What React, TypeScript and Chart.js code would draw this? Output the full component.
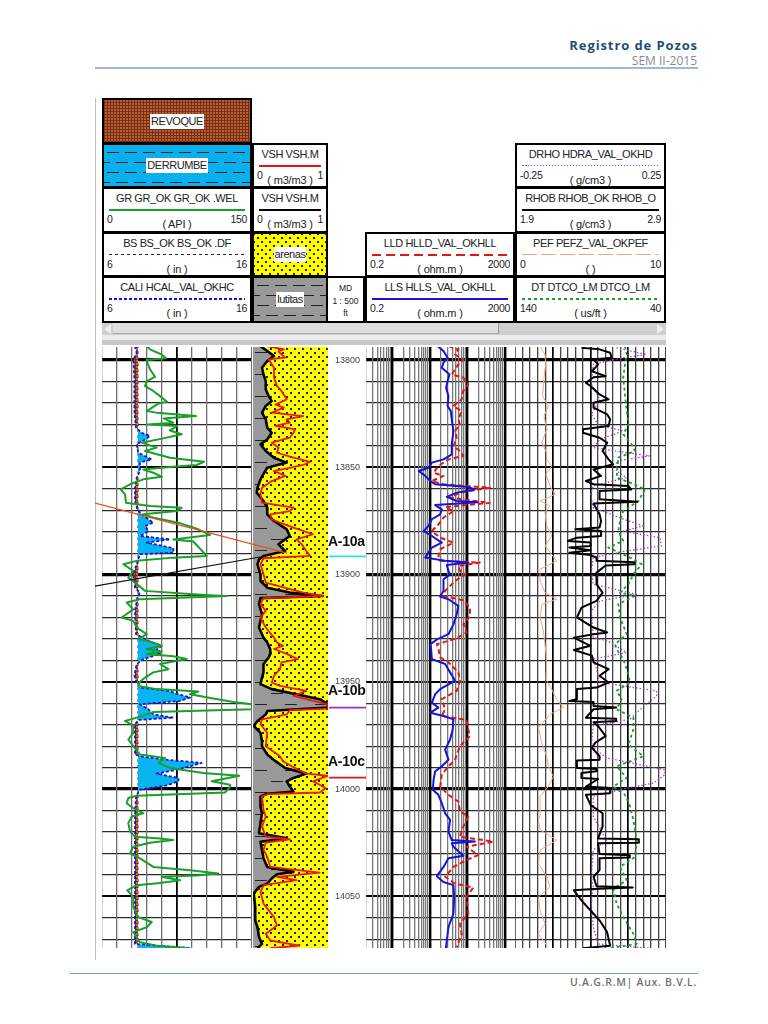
import React, { useEffect, useRef } from "react";
import { Chart, registerables } from "chart.js";

Chart.register(...registerables);

type Pair = [number, number]; // [depth in ft, curve value]

const DEPTH_TOP = 13793.9;
const DEPTH_BOTTOM = 14074.1;
const DEPTH_LABELS = [13800, 13850, 13900, 13950, 14000, 14050];

const GR: Pair[] = [[13793.5,44.7],[13795,48],[13797.4,59.7],[13799.2,64],[13800,44.7],[13802,46],[13804.3,48],[13807.8,53],[13809.8,44.7],[13812.1,43],[13814.4,51.3],[13816.8,58],[13819.4,65],[13820.3,56.3],[13823.8,44.7],[13824.5,54.7],[13826.1,94],[13827.2,61.7],[13829.2,71.3],[13830,46],[13830.7,75.3],[13832.8,68],[13834.6,79.7],[13836.5,61.3],[13838.5,39.7],[13840.8,54.7],[13842.4,43],[13845.5,68],[13847.4,102],[13848.9,94.7],[13849.9,68],[13851,41.3],[13852.5,51.3],[13854.4,59.7],[13855.6,41.3],[13857.9,28],[13860.3,18.7],[13862.6,23],[13866.5,24],[13868,48],[13868.8,79.7],[13870.4,74.7],[13871.9,41.3],[13873.5,51.3],[13875.8,76.3],[13878.9,96.3],[13881.5,108],[13883.6,71.3],[13884.6,91.3],[13891.3,104.7],[13892.1,71.3],[13893.6,34.7],[13895.2,21.3],[13898.3,31.3],[13901.4,26.3],[13903.7,33],[13907.6,43],[13909.2,91.3],[13910,124.7],[13911.5,38],[13913,24.7],[13916.2,31.3],[13920,19.7],[13921.6,31.3],[13924.7,34.7],[13927.8,44.7],[13930.1,36.3],[13931.7,51.3],[13933.2,59.7],[13934.7,44.7],[13935.9,59.7],[13937,44.7],[13938.1,71.3],[13939.4,84.7],[13941.7,58],[13944.1,66.3],[13945.6,51.3],[13948,43],[13950,38],[13951.9,36.3],[13953.4,54.7],[13954.5,96.3],[13955.8,88],[13957.8,111.3],[13959.4,131.3],[13960.5,150],[13962.8,150],[13964.1,51.3],[13966.7,34.7],[13968.3,23],[13970.3,31.3],[13973.8,31.3],[13976.9,26.3],[13980,31.3],[13983.9,38],[13985.5,63],[13987.8,56.3],[13990.2,68],[13992.5,101.3],[13993.8,137.3],[13996.4,109.7],[13998,128],[13999.1,128],[14001.6,123],[14003.1,34.7],[14004.2,26.3],[14006.6,24.7],[14008.9,31.3],[14011.3,41.3],[14012.8,29.7],[14015.9,26.3],[14019.8,28],[14022.2,33],[14023,58],[14023.8,71.3],[14025,48],[14026.9,31.3],[14030,28],[14032.3,38],[14036.3,51.3],[14037.8,88],[14039.4,116.3],[14040.3,94.7],[14040.9,59.7],[14042.5,78],[14043.8,58],[14044.8,34.7],[14047.2,25.3],[14050.3,31.3],[14055,31.3],[14059.7,36.3],[14062,49.7],[14064.4,44.7],[14066.7,31.3],[14069,34.7],[14071.4,38],[14073,54.7],[14074.2,88]];

const BS: Pair[] = [[13793,8.4],[14075,8.4]];

const CALI: Pair[] = [[13793.5,8.2],[13796.6,8.31],[13800,8.09],[13808.2,8.16],[13823.8,8.16],[13831.5,8.27],[13833.9,8.64],[13835.4,9.2],[13837,8.87],[13839.3,8.31],[13843.2,8.42],[13846.3,9.31],[13847.8,8.53],[13851.7,8.53],[13854.8,8.31],[13859.5,8.2],[13865.7,8.2],[13869.6,8.36],[13871.9,8.64],[13875.8,9.42],[13877.3,8.87],[13879.7,9.09],[13882,8.53],[13883.6,10.53],[13885.1,8.98],[13887.7,10.76],[13889.8,10.76],[13890.5,8.53],[13895.2,8.31],[13899.9,8.09],[13906.1,8.2],[13908.4,8.53],[13910.7,8.36],[13916.9,8.2],[13927.8,8.27],[13930.9,9.09],[13933.2,9.98],[13936.3,9.42],[13937,9.87],[13939.4,8.76],[13941.7,8.31],[13947.2,8.16],[13950.3,8.31],[13952.7,8.53],[13954.2,10.42],[13955.8,11.09],[13957.3,11.87],[13958.9,11.2],[13960.5,8.53],[13962.8,9.09],[13965.2,9.42],[13966.7,10.76],[13967.8,8.42],[13969.8,8.2],[13983.9,8.2],[13985,8.76],[13986.3,10.31],[13987.8,12.64],[13989.4,11.87],[13991.3,10.76],[13992.8,9.64],[13994.8,11.09],[13996.4,11.09],[13998.3,10.31],[14000.3,8.53],[14003.4,8.27],[14012.8,8.2],[14028.4,8.2],[14044,8.2],[14059.7,8.2],[14072.2,8.2],[14074.2,11.98]];

const VSH_BLACK: Pair[] = [[13793.5,.1],[13795.8,.19],[13798.1,.28],[13800.5,.19],[13803.6,.12],[13806.7,.14],[13809.8,.17],[13813.7,.17],[13816.8,.21],[13819.1,.25],[13821.4,.17],[13824.5,.12],[13827.6,.17],[13831.5,.19],[13833.9,.25],[13837,.19],[13839.3,.1],[13842.4,.17],[13845.5,.28],[13847.8,.45],[13850.2,.19],[13852.5,.15],[13855.6,.1],[13859.5,.06],[13861.8,.05],[13865.7,.14],[13868.8,.19],[13871.9,.19],[13875,.28],[13878.9,.45],[13882,.49],[13885.9,.34],[13889,.43],[13891.3,.14],[13892.9,.08],[13895.2,.06],[13899.9,.1],[13903,.1],[13906.1,.19],[13908.4,.49],[13910,.93],[13911,.1],[13913.8,.08],[13918.5,.12],[13924.7,.08],[13929.4,.14],[13931.7,.19],[13934.8,.23],[13937,.23],[13938.6,.21],[13941.7,.14],[13945.6,.14],[13948,.12],[13951.1,.1],[13953.4,.25],[13955.8,.58],[13958.1,.89],[13960.5,1],[13962,1],[13963.6,.19],[13965.2,.17],[13968.3,.06],[13970.6,.01],[13973.8,.1],[13977.7,.12],[13980,.12],[13983.9,.19],[13987,.3],[13990.2,.43],[13992.8,.71],[13994.8,.54],[13996.4,.45],[13998.8,.49],[14001.1,.54],[14002.2,.19],[14003.4,.1],[14008.1,.1],[14011.3,.12],[14015.9,.1],[14020.6,.08],[14023,.45],[14024.6,.1],[14028.4,.12],[14032.3,.14],[14036.3,.19],[14038.6,.54],[14039.7,.32],[14041.7,.25],[14044.1,.19],[14045.6,.08],[14048.7,.01],[14055,.03],[14061.2,.03],[14064.4,.06],[14069,.08],[14072.2,.12],[14074.2,.06]];

const VSH_RED: Pair[] = [[13793.5,.19],[13795,.41],[13796,.34],[13798.9,.43],[13799.7,.21],[13803.6,.28],[13808.2,.28],[13812.1,.32],[13814.4,.38],[13818.3,.45],[13820.7,.3],[13822.2,.41],[13824.5,.25],[13826.1,.67],[13827.6,.45],[13829.2,.49],[13830.7,.3],[13832.3,.56],[13833.9,.54],[13836.2,.49],[13838.5,.25],[13840.8,.34],[13843.2,.32],[13845.5,.54],[13847.4,.76],[13848.9,.67],[13850.2,.49],[13851.7,.28],[13854,.43],[13856.4,.25],[13859.5,.12],[13862.6,.1],[13866.5,.12],[13868.8,.54],[13870.4,.49],[13871.9,.23],[13874.2,.25],[13875.8,.36],[13878.1,.54],[13881.2,.8],[13883.6,.58],[13885.9,.65],[13889,.71],[13891.3,.76],[13892.4,.14],[13895.2,.1],[13899.9,.14],[13903.7,.17],[13908.4,.67],[13910,.93],[13911,.14],[13913.8,.1],[13916.9,.17],[13920,.1],[13924.7,.17],[13929.4,.28],[13931.7,.32],[13933.2,.4],[13934.7,.28],[13937,.45],[13939.4,.6],[13940.9,.38],[13944.1,.36],[13947.2,.28],[13950.3,.25],[13951.9,.36],[13954.2,.71],[13956.6,.54],[13958.9,.8],[13960.5,1],[13962.5,1],[13963.2,.49],[13965.2,.45],[13967.5,.12],[13969.8,.1],[13973.8,.19],[13980,.17],[13984.7,.36],[13987,.4],[13989.4,.52],[13992.8,.71],[13993.8,1],[13996.4,.8],[13998,.89],[13999.6,.97],[14001.6,.89],[14002.4,.19],[14003.4,.12],[14009.7,.14],[14012.8,.17],[14017.5,.12],[14022.2,.17],[14023.4,.49],[14025,.17],[14028.4,.14],[14031.5,.19],[14036.3,.23],[14039,.89],[14040.9,.32],[14042.5,.58],[14044.8,.14],[14048,.1],[14053.4,.14],[14059.7,.28],[14063.6,.32],[14067.5,.17],[14070.6,.23],[14073,.62],[14074.2,.23]];

const LLS: Pair[] = [[13793.5,16.2],[13795.8,23.3],[13798.9,30],[13801.2,23.3],[13803.6,21],[13806.7,33.6],[13809.8,30],[13812.9,27.4],[13816.8,31.6],[13821.4,30],[13823.8,36.5],[13827.6,38.7],[13833.1,42.9],[13839.3,38.7],[13844,38.7],[13846.3,23.3],[13847.8,11.4],[13850.2,9.3],[13851.7,5.1],[13854,7.6],[13856.4,10.4],[13857.9,14],[13859.2,107],[13860.3,160],[13861.8,52.5],[13863.8,28.6],[13865.7,52.5],[13866.3,196],[13867.6,14],[13869.6,21],[13871.9,19],[13874.2,11.4],[13877.3,9.3],[13879.7,6.9],[13882,11.4],[13885.1,21],[13887.4,11.4],[13892.1,7.6],[13893.6,25.8],[13894.4,107],[13895.5,28.6],[13898.3,31.6],[13899.9,35],[13902.2,23.3],[13907.6,23.3],[13910.3,19],[13911.5,31.6],[13914.6,58],[13918.5,52.5],[13923.2,42.9],[13927.8,31.6],[13930.1,16],[13932.5,10.4],[13934.7,10.9],[13939.4,11.4],[13941.7,25.8],[13945.6,35],[13949.5,47.4],[13953.4,19],[13955.8,14],[13959.7,11.4],[13962,17],[13964.4,10.4],[13965.9,23.3],[13967.5,42.9],[13972.2,41],[13976.9,35],[13981.6,25.8],[13986.3,31.6],[13989.4,21],[13991.7,14],[13995.6,12.7],[14000.3,12.1],[14002.7,17],[14006.6,21],[14011.3,25.8],[14014.4,35],[14019.8,31.6],[14023.8,38.7],[14024.5,160],[14025.3,38.7],[14026.9,42.9],[14031.1,78.8],[14032.3,31.6],[14036.3,23.3],[14040.6,15.5],[14043.3,23.3],[14044.8,42.9],[14050.3,45],[14058.1,42.9],[14064.4,31.6],[14074.2,27]];

const LLD: Pair[] = [[13793.5,31.6],[13795,58],[13797.4,47.4],[13799.7,79],[13802,58],[13806.7,38.7],[13808.2,79],[13811.3,107],[13814.4,79],[13818.3,71],[13821.4,43],[13823.8,71],[13827.6,58],[13830,64],[13833.1,47.4],[13836.2,52.5],[13840.1,43],[13842.4,64],[13844.7,79],[13846.3,31.6],[13849.4,17.1],[13852.5,12.7],[13854,23.3],[13856.4,11.4],[13857.9,23.3],[13859.5,398],[13861.8,64],[13864.1,35],[13866.6,398],[13868.5,25.8],[13870.4,43],[13873.5,23.3],[13876.6,17.1],[13879.7,11.4],[13882.8,19],[13885.1,43],[13888.2,19],[13891.3,17.1],[13893.6,19],[13894.4,217],[13896,58],[13898.3,64],[13899.9,87],[13903,47.4],[13907.6,25.8],[13910,23.3],[13912,79],[13915.4,118],[13919.3,118],[13923.2,79],[13927,96],[13929.7,52.5],[13932.5,15.5],[13934.7,17.1],[13938.6,19],[13940.9,31.6],[13945.6,58],[13949.5,64],[13954.2,52.5],[13958.1,21],[13962.8,25.8],[13965.9,21],[13967.8,96],[13972.2,107],[13975.3,118],[13980,64],[13986.3,47.4],[13989.4,31.6],[13993.3,21],[13998.8,19],[14002.7,31.6],[14005.8,58],[14010.5,64],[14012.8,107],[14017.5,79],[14022.2,64],[14024.5,489],[14026.9,96],[14030.8,196],[14033.1,96],[14036.3,43],[14040.9,25.8],[14044.1,47.4],[14045.9,145],[14050.3,96],[14058.1,107],[14062.8,64],[14067.5,71],[14073.8,52.5]];

const PEF: Pair[] = [[13793.5,1.66],[13797.4,1.99],[13802,2.03],[13808.2,1.92],[13816.8,1.83],[13821.4,2.21],[13826.1,1.92],[13832.3,2.1],[13838.5,1.77],[13843.2,2.1],[13846.3,2.1],[13849.4,2.43],[13853.3,2.05],[13858.7,2.32],[13862.6,2.65],[13865.7,1.66],[13868,2.32],[13871.1,1.99],[13877.3,2.1],[13882,2.43],[13886.6,1.99],[13893.6,2.76],[13897.5,1.66],[13903,1.66],[13908.4,1.99],[13911.5,2.76],[13913.8,1.77],[13920,1.66],[13926.2,1.88],[13936.4,2.05],[13940.9,2.1],[13948.8,2.05],[13953.4,2.43],[13958.1,2.76],[13962,3.2],[13965.2,2.32],[13971.4,1.55],[13978.5,1.77],[13984.7,2.1],[13989.4,2.21],[13994.1,2.54],[13998.8,2.21],[14003.4,1.66],[14008.1,1.66],[14012,1.66],[14014.4,1.55],[14019,1.66],[14023.8,2.76],[14028.4,1.66],[14034.7,1.55],[14040.9,2.1],[14045.6,2.32],[14050.3,1.55],[14056.6,1.66],[14062.8,1.99],[14067.5,1.55],[14073.8,2.21]];

const RHOB: Pair[] = [[13794.3,2.34],[13795,2.46],[13796.6,2.53],[13798.9,2.54],[13799.7,2.42],[13802,2.45],[13805.2,2.41],[13807.5,2.5],[13808,2.42],[13810.6,2.37],[13812.1,2.4],[13816,2.46],[13818.3,2.52],[13819.9,2.42],[13822.2,2.42],[13825.3,2.51],[13827.6,2.53],[13830.7,2.52],[13832.3,2.35],[13833.9,2.35],[13836.2,2.46],[13838.5,2.51],[13842.4,2.48],[13846.3,2.52],[13848.6,2.55],[13851,2.42],[13854,2.47],[13856.4,2.37],[13857.9,2.42],[13858.7,2.65],[13860.3,2.67],[13861,2.46],[13864.9,2.46],[13866,2.71],[13866.9,2.42],[13871.9,2.46],[13875,2.47],[13878.1,2.46],[13878.9,2.3],[13879.7,2.47],[13882,2.47],[13882.8,2.31],[13884.3,2.25],[13885.1,2.4],[13886.7,2.4],[13887.4,2.26],[13888.7,2.4],[13889.8,2.26],[13890.9,2.4],[13892.1,2.44],[13893.6,2.44],[13894.3,2.69],[13895.2,2.69],[13895.8,2.5],[13899.1,2.44],[13904.5,2.44],[13908.4,2.48],[13912.3,2.44],[13915.4,2.34],[13920,2.31],[13924.7,2.42],[13927,2.51],[13927.8,2.42],[13929.4,2.29],[13933.2,2.4],[13935.2,2.29],[13937.8,2.41],[13940.9,2.42],[13944.1,2.52],[13947.2,2.46],[13950.3,2.52],[13952.7,2.44],[13953.4,2.31],[13958.1,2.31],[13958.9,2.26],[13959.4,2.42],[13961.3,2.42],[13962,2.57],[13962.8,2.42],[13966.7,2.37],[13967.2,2.57],[13968.3,2.57],[13968.8,2.42],[13970.6,2.45],[13975.3,2.5],[13978.5,2.43],[13980.8,2.41],[13984.7,2.46],[13986.3,2.46],[13986.7,2.31],[13990.2,2.31],[13990.6,2.44],[13991.7,2.44],[13992.5,2.34],[13994.8,2.34],[13995.3,2.45],[13998.8,2.37],[13999.5,2.53],[14001.9,2.53],[14002.7,2.37],[14007.4,2.4],[14011.3,2.48],[14017.5,2.48],[14023,2.45],[14023.4,2.72],[14025,2.72],[14025.3,2.45],[14030.3,2.46],[14030.8,2.66],[14031.9,2.66],[14032.3,2.46],[14037.8,2.46],[14040.9,2.42],[14045.3,2.44],[14045.9,2.68],[14046.6,2.42],[14047.2,2.29],[14051.9,2.34],[14056.6,2.4],[14061.2,2.46],[14066.7,2.51],[14073,2.53],[14074.2,2.35]];

const DRHO: Pair[] = [[13794.3,.086],[13797.4,.185],[13798.9,.108],[13802,.009],[13811.3,.003],[13818.3,.031],[13825.3,.003],[13830,.025],[13833.1,.108],[13836.9,.031],[13840.8,.009],[13844.7,.196],[13847,.086],[13851.7,.086],[13854.8,.119],[13858.7,.009],[13862.6,0],[13868.8,.009],[13873.5,.097],[13877.3,.174],[13879.7,.108],[13882.8,.23],[13886.6,.235],[13889,.119],[13892.1,.009],[13898.3,.003],[13904.5,.009],[13909.2,.152],[13912.3,.031],[13916.9,.003],[13929.4,.009],[13931,.058],[13936.4,.119],[13939.4,.009],[13944.1,.02],[13950.3,.031],[13954.2,.219],[13956.6,.219],[13960.5,.185],[13964.4,.152],[13967.5,.13],[13970.6,.009],[13980,.003],[13985.5,.053],[13991,.246],[13993.3,.246],[13997.2,.208],[13999.6,.119],[14003.4,.009],[14012.8,.009],[14023.8,.053],[14028.4,.009],[14040.9,.003],[14045.6,.009],[14053.4,.003],[14064.4,.009],[14072.2,.025],[14074.2,.196]];

const DT: Pair[] = [[13793.5,67.2],[13797.4,66],[13802,67.2],[13808.2,68.3],[13816,67.2],[13823.8,66],[13830,64.9],[13834.6,68.3],[13839.3,62.7],[13842.4,60.5],[13845.5,71.6],[13854.8,72.7],[13857.1,63.8],[13860.3,53.9],[13865.7,58.3],[13870.4,68.3],[13875,70.5],[13879.7,71.6],[13884.3,68.3],[13887.4,78.2],[13892.1,63.8],[13895.2,56.1],[13899.9,61.6],[13904.5,64.9],[13908.4,70.5],[13909.9,60.5],[13913.8,71.6],[13920,70.5],[13927.8,66],[13932.5,73.8],[13934.7,72.7],[13939.4,68.3],[13944.1,66],[13950.3,63.8],[13954.2,72.7],[13958.1,69.4],[13962.8,72.7],[13966.7,61.6],[13972.2,61.6],[13979.2,64.9],[13984.7,55],[13989.4,72.7],[13994.8,66],[13998.8,74.9],[14002.7,67.2],[14008.1,63.8],[14014.4,61.6],[14023.8,59.4],[14031.6,60.5],[14036.3,70.5],[14042.5,66],[14046.4,74.9],[14053.4,72.7],[14059.7,68.3],[14067.5,61.6],[14072.2,59.4],[14074.2,78.2]];

// Annotation lines on the overlay, whose x axis continues the GR scale (API) across the page.
const RED_FAULT: Pair[] = [[13866.7,-7],[13890,185]];
const BLACK_FAULT: Pair[] = [[13891.8,158],[13905.4,-7]];
const TOP_A10A: Pair[] = [[13891.5,227],[13891.5,264]];
const TOP_A10B: Pair[] = [[13962,227],[13962,264]];
const TOP_A10C: Pair[] = [[13994.7,227],[13994.7,264]];

const pts = (a: Pair[]) => a.map(([y, x]) => ({ x, y }));

function makePattern(draw: (g: CanvasRenderingContext2D) => void, w: number, h: number) {
  const c = document.createElement("canvas");
  c.width = w;
  c.height = h;
  const g = c.getContext("2d")!;
  draw(g);
  return g.createPattern(c, "repeat")!;
}
const sandPattern = () =>
  makePattern((g) => {
    g.fillStyle = "#ffff00";
    g.fillRect(0, 0, 8, 8);
    g.fillStyle = "#222";
    g.fillRect(1, 1, 2, 2);
    g.fillRect(5, 5, 2, 2);
  }, 8, 8);
const shalePattern = () =>
  makePattern((g) => {
    g.fillStyle = "#999999";
    g.fillRect(0, 0, 30, 22);
    g.fillStyle = "#222";
    g.fillRect(2, 5, 12, 1);
    g.fillRect(18, 16, 12, 1);
  }, 30, 22);
const mudcakePattern = () =>
  makePattern((g) => {
    g.fillStyle = "#c8643c";
    g.fillRect(0, 0, 3, 3);
    g.fillStyle = "#7a2e10";
    g.fillRect(0, 0, 3, 1);
    g.fillRect(0, 0, 1, 3);
  }, 3, 3);

const depthTicks: number[] = [];
for (let d = 13800; d <= 14070; d += 10) depthTicks.push(d);

const depthScale = (withGrid: boolean) => ({
  type: "linear",
  reverse: true,
  min: DEPTH_TOP,
  max: DEPTH_BOTTOM,
  display: withGrid,
  border: { display: false },
  ticks: { display: false },
  afterBuildTicks: (s: any) => {
    s.ticks = depthTicks.map((value) => ({ value }));
  },
  grid: {
    drawTicks: false,
    color: (c: any) => (c.tick.value % 50 === 0 ? "#000" : "#2a2a2a"),
    lineWidth: (c: any) => (c.tick.value % 100 === 0 ? 3.2 : c.tick.value % 50 === 0 ? 2 : 1.2),
  },
});

const hiddenX = (min: number, max: number) => ({ type: "linear", min, max, display: false });

const gridX = (type: string, min: number, max: number, ticks: number[], heavy: (v: number) => boolean, thin: string, heavyW: number) => ({
  type,
  min,
  max,
  border: { display: false },
  ticks: { display: false, autoSkip: false },
  afterBuildTicks: (s: any) => {
    s.ticks = ticks.map((value) => ({ value }));
  },
  grid: {
    drawTicks: false,
    color: (c: any) => (heavy(c.tick.value) ? "#000" : thin),
    lineWidth: (c: any) => (heavy(c.tick.value) ? heavyW : 1.3),
  },
});

// The unbroken dash keeps Chart.js on its exact path: its fast path merges points that share a pixel column.
const line = (data: Pair[], color: string, width: number, axis: string, extra: any = {}) => ({
  data: pts(data),
  borderColor: color,
  borderWidth: width,
  borderDash: [1000, 0],
  borderJoinStyle: "round",
  xAxisID: axis,
  pointRadius: 0,
  tension: 0,
  fill: false,
  ...extra,
});

const baseOptions = (scales: any, plugins: any = {}) => ({
  indexAxis: "y",
  animation: false,
  responsive: false,
  layout: { padding: 0, autoPadding: false },
  plugins: { legend: { display: false }, tooltip: { enabled: false }, ...plugins },
  scales,
});

const grTicks = [0, 15, 30, 45, 60, 75, 90, 105, 120, 135, 150];
const resTicks: number[] = [];
for (const dec of [0.1, 1, 10, 100, 1000])
  for (const m of [1, 2, 3, 4, 5, 6, 7, 8, 9]) {
    const v = +(dec * m).toPrecision(2);
    if (v >= 0.2 && v <= 2000) resTicks.push(v);
  }
const rhobTicks: number[] = [];
for (let i = 0; i <= 20; i++) rhobTicks.push(+(1.9 + i * 0.05).toFixed(2));

// Datasets draw last-to-first: the first entry of each list ends up on top.
function track1() {
  return {
    type: "line",
    data: {
      datasets: [
        line(GR, "#18a028", 2, "xGr"),
        line(CALI, "#1414d2", 1.8, "xCal", {
          borderDash: [3, 2],
          fill: { target: { value: 8.4 }, above: "#0ab4f0", below: mudcakePattern() },
        }),
        line(BS, "#333", 1, "xCal", { borderDash: [3, 3] }),
      ],
    },
    options: baseOptions({
      y: depthScale(true),
      xGr: gridX("linear", 0, 150, grTicks, (v) => v === 75, "#6e6e6e", 1.8),
      xCal: hiddenX(6, 16),
    }),
  };
}

function track2() {
  const sand = sandPattern();
  const shale = shalePattern();
  return {
    type: "line",
    data: {
      datasets: [
        line(VSH_RED, "#f01414", 1.8, "x"),
        line(VSH_BLACK, "#000", 2.6, "x"),
        line(VSH_BLACK, "transparent", 0, "x", { fill: { target: { value: 1 }, above: sand, below: sand } }),
        line(VSH_BLACK, "transparent", 0, "x", { fill: { target: { value: 0 }, above: shale, below: shale } }),
      ],
    },
    options: baseOptions({ y: depthScale(false), x: hiddenX(0, 1) }),
  };
}

function track3() {
  return {
    type: "line",
    data: {
      datasets: [
        line(LLS, "#1414d8", 2, "x"),
        line(LLD, "#e81414", 2, "x", { borderDash: [5, 3] }),
      ],
    },
    options: baseOptions({
      y: depthScale(true),
      x: gridX("logarithmic", 0.2, 2000, resTicks, (v) => [1, 10, 100, 1000].includes(v), "#777", 2.4),
    }),
  };
}

function track4() {
  return {
    type: "line",
    data: {
      datasets: [
        line(RHOB, "#000", 2, "xRhob"),
        line(DT, "#14a020", 1.8, "xDt", { borderDash: [3, 3] }),
        line(DRHO, "#a040e0", 1.3, "xDrho", { borderDash: [1.5, 2] }),
        line(PEF, "#f2a67c", 1, "xPef"),
      ],
    },
    options: baseOptions({
      y: depthScale(true),
      xRhob: gridX("linear", 1.9, 2.9, rhobTicks, (v) => [2.15, 2.4, 2.65].includes(v), "#444", 1.7),
      xDrho: hiddenX(-0.25, 0.25),
      xPef: hiddenX(0, 10),
      xDt: { ...hiddenX(40, 140), reverse: true },
    }),
  };
}

const depthLabelPlugin = {
  id: "depthLabels",
  afterDraw(chart: any) {
    const { ctx, scales } = chart;
    ctx.save();
    ctx.font = "9px 'Liberation Sans'";
    ctx.fillStyle = "#444";
    ctx.textAlign = "center";
    ctx.textBaseline = "middle";
    const x = scales.x.getPixelForValue(245.5);
    for (const d of DEPTH_LABELS) ctx.fillText(String(d), x, scales.y.getPixelForValue(d));
    ctx.restore();
  },
};

function overlay() {
  return {
    type: "line",
    plugins: [depthLabelPlugin],
    data: {
      datasets: [
        line(RED_FAULT, "#e8501e", 1.1, "x"),
        line(BLACK_FAULT, "#111", 1.1, "x"),
        line(TOP_A10A, "#28e0e8", 1.8, "x"),
        line(TOP_A10B, "#9a30c8", 1.8, "x"),
        line(TOP_A10C, "#e01818", 1.8, "x"),
      ],
    },
    options: baseOptions({
      x: hiddenX(-7, 268),
      y: { type: "linear", reverse: true, min: DEPTH_TOP, max: DEPTH_BOTTOM, display: false },
    }),
  };
}

function ChartPane({ left, top, width, height, make, z }: any) {
  const ref = useRef<HTMLCanvasElement>(null);
  useEffect(() => {
    const chart = new Chart(ref.current!, make());
    return () => chart.destroy();
  }, []);
  return <canvas ref={ref} width={width} height={height} style={{ position: "absolute", left, top, width, height, zIndex: z }} />;
}

const FONT = "'Liberation Sans', Arial, sans-serif";

function abs(left: number, top: number, width: number, height: number, extra: any = {}): any {
  return { position: "absolute", left, top, width, height, boxSizing: "border-box", ...extra };
}

const dash = (color: string, on: number, off: number, h: number) => ({
  height: h,
  backgroundImage: `repeating-linear-gradient(90deg, ${color} 0 ${on}px, transparent ${on}px ${on + off}px)`,
});

function CurveCell({ x, y, w, h, title, swatch, lo, hi, unit }: any) {
  return (
    <div style={abs(x, y, w, h, { border: "2px solid #000", background: "#fff", fontFamily: FONT, color: "#222" })}>
      <div style={{ position: "absolute", left: 0, right: 0, top: 3, textAlign: "center", fontSize: 11, letterSpacing: -0.4, whiteSpace: "nowrap" }}>{title}</div>
      <div style={{ position: "absolute", left: 5, right: 5, top: 20, ...swatch }} />
      <div style={{ position: "absolute", left: 3, top: 24, fontSize: 10.5, letterSpacing: -0.3 }}>{lo}</div>
      <div style={{ position: "absolute", right: 3, top: 24, fontSize: 10.5, letterSpacing: -0.3 }}>{hi}</div>
      <div style={{ position: "absolute", left: 0, right: 0, top: 29, textAlign: "center", fontSize: 11, letterSpacing: -0.2, whiteSpace: "nowrap" }}>{unit}</div>
    </div>
  );
}

function PatternCell({ x, y, w, h, label, bg }: any) {
  return (
    <div style={abs(x, y, w, h, { border: "2px solid #000", display: "flex", alignItems: "center", justifyContent: "center", fontFamily: FONT, ...bg })}>
      <span style={{ background: "#fff", fontSize: 11, letterSpacing: -0.45, color: "#222", padding: "0 1px", lineHeight: "15px" }}>{label}</span>
    </div>
  );
}

function hatch(bg: string, lineC: string, step: number) {
  return {
    backgroundColor: bg,
    backgroundImage: `repeating-linear-gradient(0deg, ${lineC} 0 1px, transparent 1px ${step}px), repeating-linear-gradient(90deg, ${lineC} 0 1px, transparent 1px ${step}px)`,
  };
}

function dashedRows(bg: string) {
  const stroke = "linear-gradient(90deg,#222 0 12px,transparent 12px)";
  return {
    backgroundColor: bg,
    backgroundImage: [stroke, stroke, stroke, stroke].join(","),
    backgroundSize: "18px 1px",
    backgroundRepeat: "repeat-x",
    backgroundPosition: "3px 7px,-6px 17px,3px 27px,-6px 37px",
  };
}

export default function App() {
  return (
    <div style={abs(0, 0, 768, 1024, { background: "#fff", overflow: "hidden" })}>
      <div style={{ position: "absolute", right: 70, top: 36, fontFamily: "'Open Sans', sans-serif", fontWeight: 700, fontSize: 13, letterSpacing: 0.9, color: "#1f4e79", whiteSpace: "nowrap" }}>Registro de Pozos</div>
      <div style={{ position: "absolute", right: 71, top: 52, fontFamily: "'Open Sans', sans-serif", fontSize: 12, color: "#8a8a8a", whiteSpace: "nowrap" }}>SEM II-2015</div>
      <div style={abs(95, 67, 603, 1.5, { background: "#9db8d8" })} />

      <div style={abs(94.5, 98, 1.5, 862, { background: "#bdbdbd" })} />

      <PatternCell x={102} y={98} w={150} h={46} label="REVOQUE" bg={hatch("#b5603a", "#7a2e10", 3)} />
      <PatternCell x={102} y={143} w={150} h={45} label="DERRUMBE" bg={dashedRows("#0ab0ec")} />
      <CurveCell x={102} y={187} w={150} h={46} title="GR GR_OK GR_OK .WEL" swatch={{ height: 2, background: "#18a028" }} lo="0" hi="150" unit="( API )" />
      <CurveCell x={102} y={232} w={150} h={45} title="BS BS_OK BS_OK .DF" swatch={dash("#222", 3, 3, 1)} lo="6" hi="16" unit="( in )" />
      <CurveCell x={102} y={276} w={150} h={47} title="CALI HCAL_VAL_OKHC" swatch={dash("#1414d2", 3, 2, 2)} lo="6" hi="16" unit="( in )" />

      <CurveCell x={252} y={143} w={76} h={45} title="VSH VSH.M" swatch={{ height: 2, background: "#e81414" }} lo="0" hi="1" unit="( m3/m3 )" />
      <CurveCell x={252} y={187} w={76} h={46} title="VSH VSH.M" swatch={{ height: 2, background: "#000" }} lo="0" hi="1" unit="( m3/m3 )" />
      <PatternCell x={252} y={232} w={76} h={45} label="arenas" bg={{ backgroundColor: "#ffff00", backgroundImage: "radial-gradient(circle, #222 1.1px, transparent 1.3px), radial-gradient(circle, #222 1.1px, transparent 1.3px)", backgroundSize: "8px 8px", backgroundPosition: "0 0, 4px 4px" }} />
      <PatternCell x={252} y={276} w={76} h={47} label="lutitas" bg={dashedRows("#999999")} />
      <div style={abs(328, 276, 37, 47, { border: "2px solid #000", borderLeft: "none", fontFamily: FONT, fontSize: 8.5, color: "#222", textAlign: "center", lineHeight: "12.5px", paddingTop: 4, background: "#fff" })}>
        MD<br />1 : 500<br />ft
      </div>

      <CurveCell x={365} y={232} w={150} h={45} title="LLD HLLD_VAL_OKHLL" swatch={dash("#e81414", 9, 5, 2)} lo="0.2" hi="2000" unit="( ohm.m )" />
      <CurveCell x={365} y={276} w={150} h={47} title="LLS HLLS_VAL_OKHLL" swatch={{ height: 2, background: "#1414d8" }} lo="0.2" hi="2000" unit="( ohm.m )" />

      <CurveCell x={515} y={143} w={151} h={45} title="DRHO HDRA_VAL_OKHD" swatch={dash("#a040e0", 1.5, 1.5, 1)} lo="-0.25" hi="0.25" unit="( g/cm3 )" />
      <CurveCell x={515} y={187} w={151} h={46} title="RHOB RHOB_OK RHOB_O" swatch={{ height: 2, background: "#000" }} lo="1.9" hi="2.9" unit="( g/cm3 )" />
      <CurveCell x={515} y={232} w={151} h={45} title="PEF PEFZ_VAL_OKPEF" swatch={dash("#f2a67c", 15, 4, 1)} lo="0" hi="10" unit="(  )" />
      <CurveCell x={515} y={276} w={151} h={47} title="DT DTCO_LM DTCO_LM" swatch={dash("#14a020", 3, 3, 2)} lo="140" hi="40" unit="( us/ft )" />

      {/* scroll bar strip */}
      <div style={abs(102, 323, 564, 12, { background: "#cfcfcf" })} />
      <div style={abs(113, 323, 386, 11, { background: "#dedede", borderRight: "1px solid #9a9a9a", borderBottom: "1px solid #aaa" })} />
      <div style={abs(104, 324, 0, 0, { borderTop: "5px solid transparent", borderBottom: "5px solid transparent", borderRight: "7px solid #eee" })} />
      <div style={abs(657, 324, 0, 0, { borderTop: "5px solid transparent", borderBottom: "5px solid transparent", borderLeft: "7px solid #eee" })} />
      <div style={abs(102, 335, 564, 5, { background: "#ececec" })} />
      <div style={abs(102, 340, 564, 4.5, { background: "#c8c8c8" })} />

      <ChartPane left={102} top={347} width={150} height={601} make={track1} z={1} />
      <ChartPane left={253} top={347} width={75} height={601} make={track2} z={1} />
      <ChartPane left={366} top={347} width={150} height={601} make={track3} z={1} />
      <ChartPane left={515} top={347} width={151} height={601} make={track4} z={1} />
      <ChartPane left={95} top={347} width={275} height={601} make={overlay} z={2} />

      {[["A-10a", 533], ["A-10b", 682], ["A-10c", 753]].map(([t, y]) => (
        <div key={t as string} style={{ position: "absolute", left: 328, top: y as number, fontFamily: FONT, fontWeight: 700, fontSize: 14, color: "#111", zIndex: 3, whiteSpace: "nowrap", letterSpacing: -0.3 }}>{t}</div>
      ))}

      <div style={abs(70, 972.5, 628, 1.5, { background: "#7ba0c8" })} />
      <div style={{ position: "absolute", right: 71, top: 975, fontFamily: "'Open Sans', sans-serif", fontWeight: 600, fontSize: 10.5, letterSpacing: 0.7, color: "#707070", whiteSpace: "nowrap" }}>U.A.G.R.M| Aux. B.V.L.</div>
    </div>
  );
}
